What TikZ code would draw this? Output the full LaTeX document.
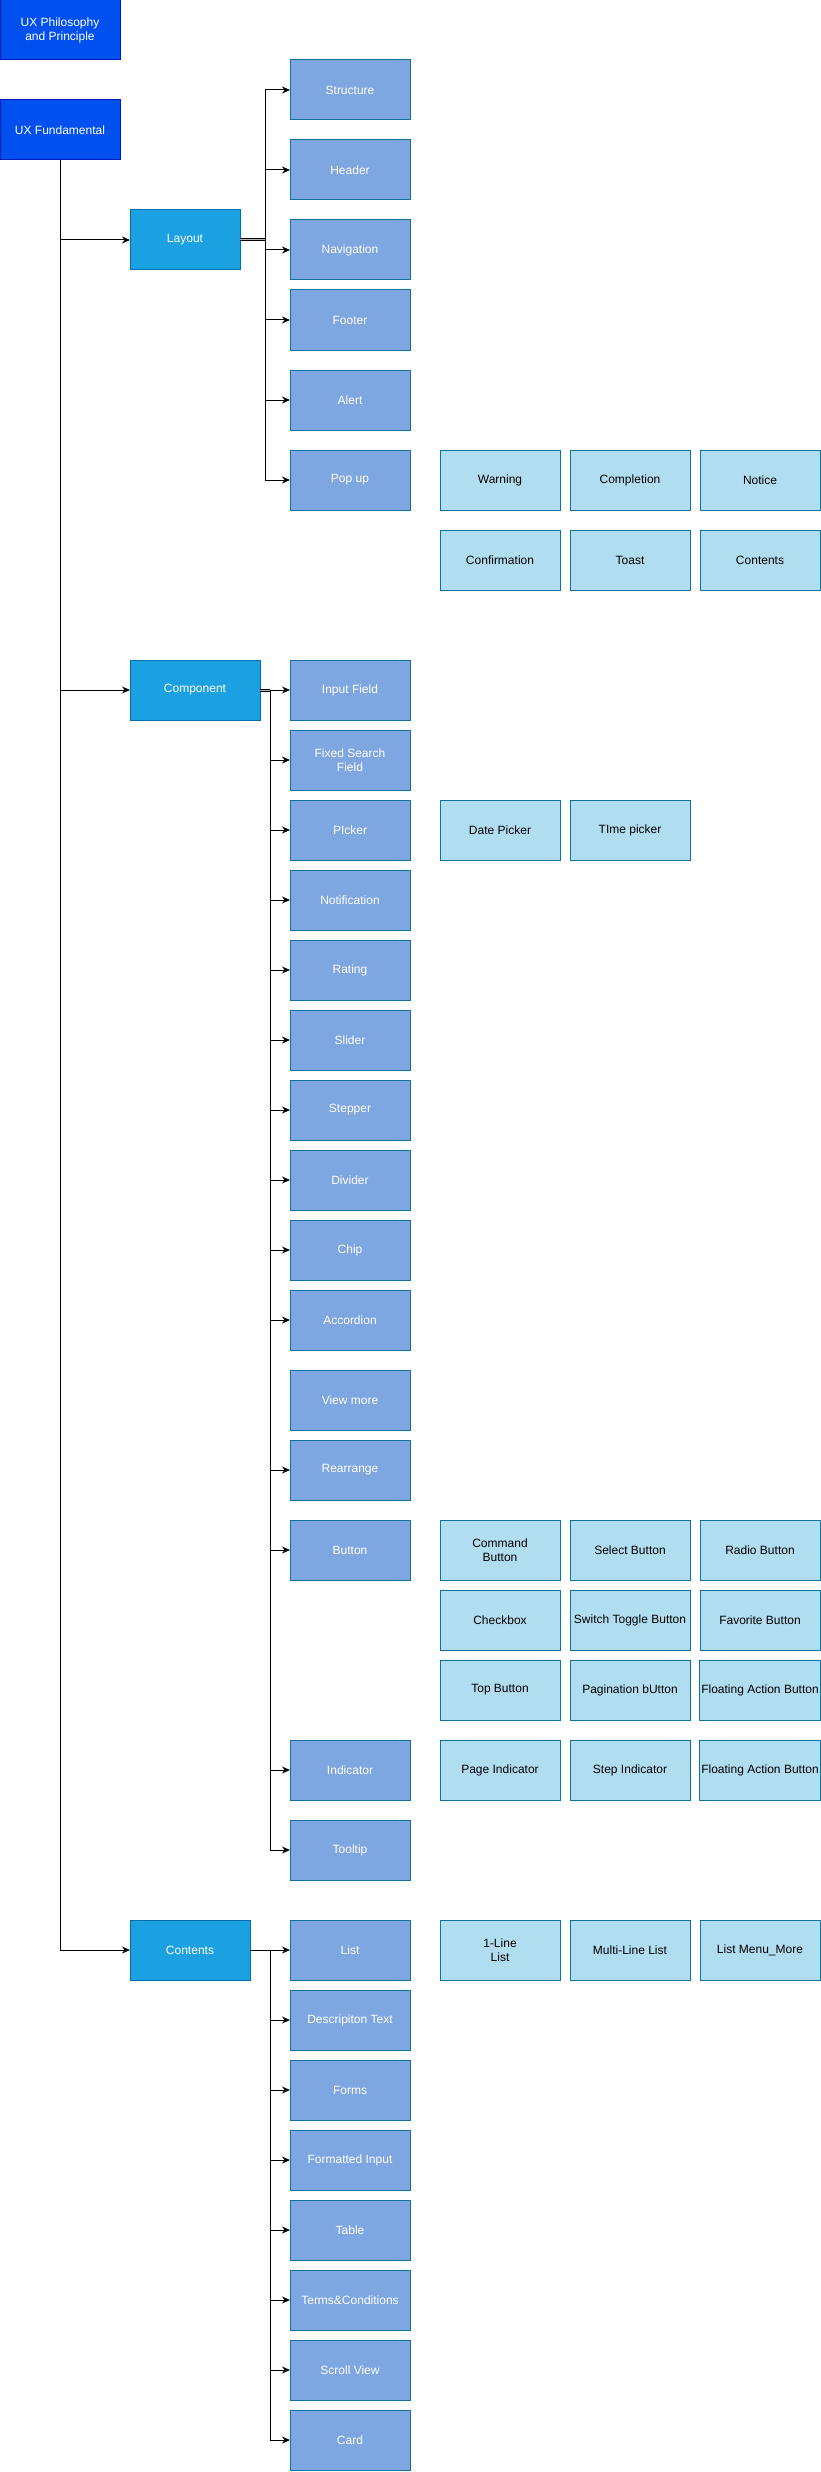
\documentclass[tikz,border=0pt]{standalone}
\usepackage{fontspec}
\setmainfont{Liberation Sans}
\usetikzlibrary{arrows.meta}

\definecolor{topblue}{HTML}{0050EF}
\definecolor{topline}{HTML}{001DBC}
\definecolor{grpblue}{HTML}{1BA1E2}
\definecolor{grpline}{HTML}{006EAF}
\definecolor{itemblue}{HTML}{7EA6E0}
\definecolor{itemline}{HTML}{10739E}
\definecolor{leafblue}{HTML}{B1DDF0}

\tikzset{
  box/.style={draw, line width=1pt, inner sep=2pt, outer sep=0pt, align=center,
    minimum height=60pt, font=\fontsize{12}{14}\selectfont},
  topbox/.style={box, fill=topblue, draw=topline, text=white, minimum width=120pt},
  grpbox/.style={box, fill=grpblue, draw=grpline, text=white},
  itembox/.style={box, fill=itemblue, draw=itemline, text=white, minimum width=120pt},
  leafbox/.style={box, fill=leafblue, draw=itemline, text=black, minimum width=120pt},
  arr/.style={line width=1pt, -{Stealth[length=8pt,width=7pt]}},
  stub/.style={line width=1pt, double=gray!60, double distance=1pt},
}

\begin{document}
\begin{tikzpicture}[x=1pt,y=-1pt]
  \useasboundingbox (0,0) rectangle (821,2472);
  % top level
  \node[topbox] (philo) at (60,30) {UX Philosophy\\and Principle};
  \node[topbox] (fund) at (60,130) {UX Fundamental};
  \node[grpbox, minimum width=110pt] (layout) at (185,240) {Layout};
  \node[grpbox, minimum width=130pt] (comp) at (195,690) {Component};
  \node[grpbox, minimum width=120pt] (cont) at (190,1950) {Contents};
  \draw[arr] (fund.south) |- (layout.west);
  \draw[arr] (fund.south) |- (comp.west);
  \draw[arr] (fund.south) |- (cont.west);

  % layout
  \node[itembox] (structure) at (350,90) {Structure};
  \node[itembox] (header) at (350,170) {Header};
  \node[itembox] (navigation) at (350,250) {Navigation};
  \node[itembox] (footer) at (350,320) {Footer};
  \node[itembox] (alert) at (350,400) {Alert};
  \node[itembox] (popup) at (350,480) {Pop up};
  \draw[stub] (layout.east) -- (265,240) coordinate (lt);
  \foreach \n in {structure,header,navigation,footer,alert,popup}
    \draw[arr] (lt) |- (\n.west);
  \node[leafbox] (warning) at (500,480) {Warning};
  \node[leafbox] (completion) at (630,480) {Completion};
  \node[leafbox] (notice) at (760,480) {Notice};
  \node[leafbox] (confirm) at (500,560) {Confirmation};
  \node[leafbox] (toast) at (630,560) {Toast};
  \node[leafbox] (popcont) at (760,560) {Contents};

  % component
  \node[itembox] (input) at (350,690) {Input Field};
  \node[itembox] (search) at (350,760) {Fixed Search\\Field};
  \node[itembox] (picker) at (350,830) {PIcker};
  \node[itembox] (notif) at (350,900) {Notification};
  \node[itembox] (rating) at (350,970) {Rating};
  \node[itembox] (slider) at (350,1040) {Slider};
  \node[itembox] (stepper) at (350,1110) {Stepper};
  \node[itembox] (divider) at (350,1180) {Divider};
  \node[itembox] (chip) at (350,1250) {Chip};
  \node[itembox] (accordion) at (350,1320) {Accordion};
  \node[itembox] (viewmore) at (350,1400) {View more};
  \node[itembox] (rearrange) at (350,1470) {Rearrange};
  \node[itembox] (button) at (350,1550) {Button};
  \node[itembox] (indicator) at (350,1770) {Indicator};
  \node[itembox] (tooltip) at (350,1850) {Tooltip};
  \draw[stub] (comp.east) -- (270,690) coordinate (ct);
  \foreach \n in {input,search,picker,notif,rating,slider,stepper,divider,chip,accordion,rearrange,button,indicator,tooltip}
    \draw[arr] (ct) |- (\n.west);
  \node[leafbox] (date) at (500,830) {Date Picker};
  \node[leafbox] (time) at (630,830) {TIme picker};
  \node[leafbox] (command) at (500,1550) {Command\\Button};
  \node[leafbox] (select) at (630,1550) {Select Button};
  \node[leafbox] (radio) at (760,1550) {Radio Button};
  \node[leafbox] (check) at (500,1620) {Checkbox};
  \node[leafbox] (switch) at (630,1620) {Switch Toggle Button};
  \node[leafbox] (favorite) at (760,1620) {Favorite Button};
  \node[leafbox] (topbtn) at (500,1690) {Top Button};
  \node[leafbox] (pagination) at (630,1690) {Pagination bUtton};
  \node[leafbox] (floatbtn) at (760,1690) {Floating Action Button};
  \node[leafbox] (pageind) at (500,1770) {Page Indicator};
  \node[leafbox] (stepind) at (630,1770) {Step Indicator};
  \node[leafbox] (floatind) at (760,1770) {Floating Action Button};

  % contents
  \node[itembox] (list) at (350,1950) {List};
  \node[itembox] (desc) at (350,2020) {Descripiton Text};
  \node[itembox] (forms) at (350,2090) {Forms};
  \node[itembox] (formatted) at (350,2160) {Formatted Input};
  \node[itembox] (table) at (350,2230) {Table};
  \node[itembox] (terms) at (350,2300) {Terms\&Conditions};
  \node[itembox] (scroll) at (350,2370) {Scroll View};
  \node[itembox] (card) at (350,2440) {Card};
  \draw[line width=1pt] (cont.east) -- (270,1950) coordinate (nt);
  \foreach \n in {list,desc,forms,formatted,table,terms,scroll,card}
    \draw[arr] (nt) |- (\n.west);
  \node[leafbox] (oneline) at (500,1950) {1-Line\\List};
  \node[leafbox] (multiline) at (630,1950) {Multi-Line List};
  \node[leafbox] (listmore) at (760,1950) {List Menu\_More};
\end{tikzpicture}
\end{document}
